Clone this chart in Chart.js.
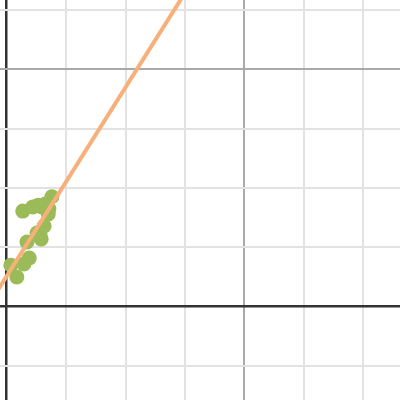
<!DOCTYPE html>
<html>
<head>
<meta charset="utf-8">
<script src="https://cdn.jsdelivr.net/npm/chart.js@4/dist/chart.umd.min.js"></script>
<style>
  html, body { margin: 0; padding: 0; background: #fff; }
  #wrap { width: 400px; height: 400px; }
</style>
</head>
<body>
<div id="wrap"><canvas id="c" width="400" height="400"></canvas></div>
<script>
// scatter points
const pointsX = [0.27, 0.44, 0.53, 0.59, 0.65, 0.71, 0.70, 0.76, 0.63, 0.56, 0.58, 0.51, 0.34, 0.38, 0.29, 0.07, 0.17];
const pointsY = [1.61, 1.68, 1.71, 1.68, 1.73, 1.65, 1.56, 1.85, 1.36, 1.21, 1.14, 1.24, 1.09, 0.82, 0.72, 0.70, 0.50];

// fitted line, two end points
const trendX = [-0.3, 3.2];
const trendY = [0.04, 5.6];

// grid positions (no labels shown)
const gridX = [0, 1, 2, 3, 4, 5, 6];
const gridY = [-1, 0, 1, 2, 3, 4, 5];

const toXY = (xs, ys) => xs.map((x, i) => ({ x, y: ys[i] }));

// axis line dark, every 4th line medium, the rest light
const gridColor = (ctx) => {
  const v = ctx.tick && ctx.tick.value;
  if (v === 0) return '#333333';
  if (v % 4 === 0) return '#a9a9a9';
  return '#e2e2e2';
};
const gridWidth = (ctx) => {
  const v = ctx.tick && ctx.tick.value;
  return v === 0 ? 2.5 : 2;
};

const setTicks = (vals) => (scale) => {
  scale.ticks = vals.map((value) => ({ value }));
};

new Chart(document.getElementById('c'), {
  type: 'scatter',
  data: {
    datasets: [
      {
        type: 'line',
        data: toXY(trendX, trendY),
        borderColor: '#f7b07a',
        borderWidth: 4,
        pointRadius: 0,
        fill: false,
        order: 0,
      },
      {
        data: toXY(pointsX, pointsY),
        backgroundColor: '#9bbb59',
        borderWidth: 0,
        pointRadius: 7.5,
        order: 1,
      },
    ],
  },
  options: {
    responsive: false,
    animation: false,
    layout: { padding: 0, autoPadding: false },
    plugins: { legend: { display: false }, tooltip: { enabled: false } },
    scales: {
      x: {
        type: 'linear',
        min: -0.113,
        max: 6.62,
        afterBuildTicks: setTicks(gridX),
        afterFit(scale) { scale.height = 0; scale.paddingLeft = 0; scale.paddingRight = 0; },
        ticks: { display: false, padding: 0 },
        border: { display: false },
        grid: { color: gridColor, lineWidth: gridWidth, drawTicks: false },
      },
      y: {
        type: 'linear',
        min: -1.57,
        max: 5.163,
        afterBuildTicks: setTicks(gridY),
        afterFit(scale) { scale.width = 0; scale.paddingTop = 0; scale.paddingBottom = 0; },
        ticks: { display: false, padding: 0 },
        border: { display: false },
        grid: { color: gridColor, lineWidth: gridWidth, drawTicks: false },
      },
    },
  },
});
</script>
</body>
</html>
